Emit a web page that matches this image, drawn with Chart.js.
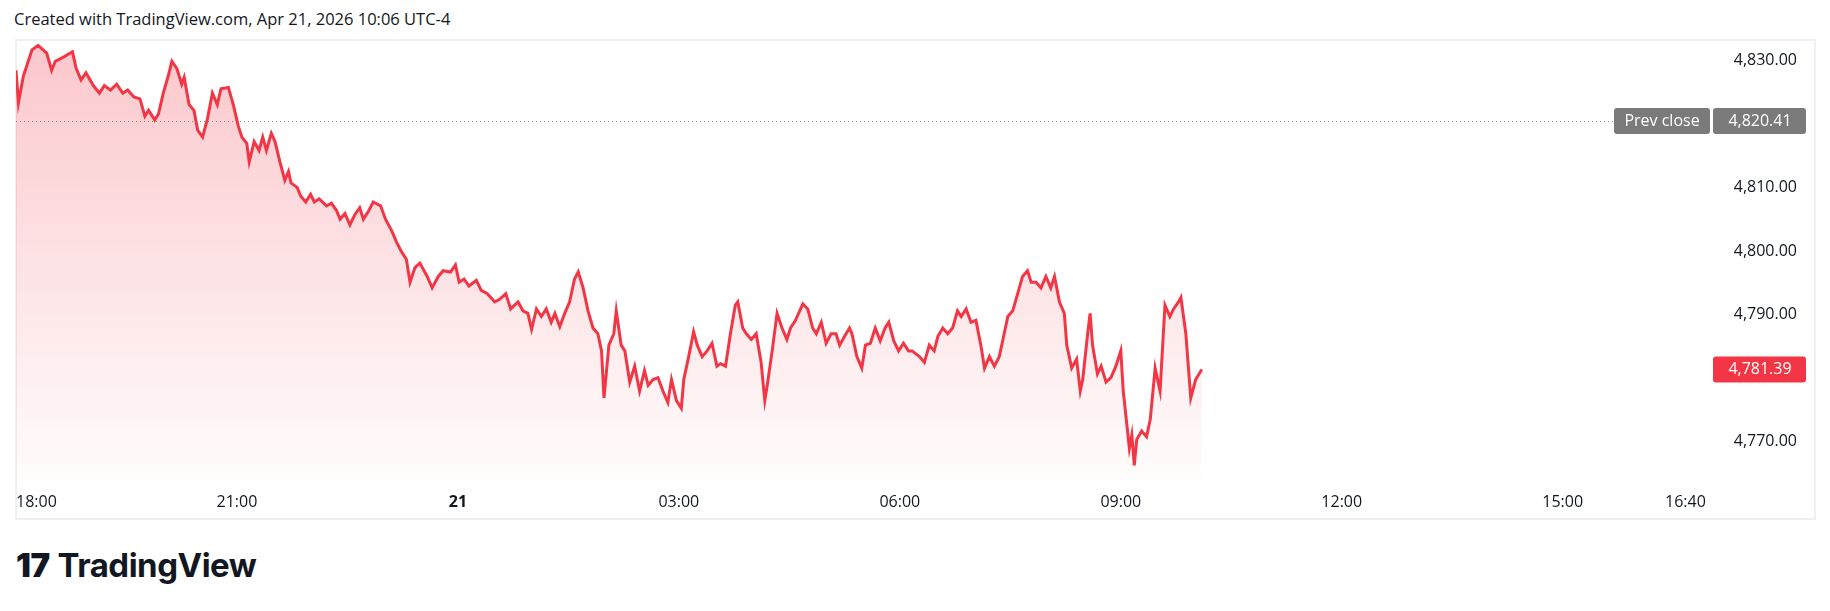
<!DOCTYPE html>
<html><head><meta charset="utf-8">
<script src="https://cdn.jsdelivr.net/npm/chart.js@4/dist/chart.umd.min.js"></script>
<style>
html,body{margin:0;padding:0;background:#fff;width:1830px;height:611px;overflow:hidden;font-family:"Open Sans","Noto Sans",sans-serif;}
#title{position:absolute;left:14px;top:7px;font-size:16.5px;color:#131722;}
#logo{position:absolute;left:16px;top:545px;font-size:33px;font-weight:700;color:#131722;font-family:Inter,"Open Sans",sans-serif;letter-spacing:-0.5px;}
#logo span{display:inline-block;font-weight:900;margin-right:8px;}
canvas{position:absolute;left:0;top:0;}
</style></head><body>
<div id="title">Created with TradingView.com, Apr 21, 2026 10:06 UTC-4</div>
<div id="logo"><span>17</span>TradingView</div>
<canvas id="c" width="1830" height="611"></canvas>
<script>
// minutes since 18:00 (Apr 20)
const minutes = [0,2,6,13,18,25,29,32,39,46,49,53,57,63,68,72,77,82,87,91,96,101,105,108,113,116,120,124,127,131,135,137,141,145,148,152,156,160,164,167,173,177,181,184,188,190,194,198,201,204,208,211,215,219,222,224,229,232,236,240,243,247,253,257,261,264,268,272,276,280,283,287,291,297,301,306,310,314,318,321,325,329,335,339,344,348,354,358,361,365,369,375,379,384,390,394,399,403,409,413,417,420,424,428,432,436,439,443,447,451,455,458,462,466,470,474,477,479,483,487,489,493,496,500,504,508,512,515,519,523,527,531,534,538,542,544,548,552,555,559,563,567,571,574,578,582,586,588,592,595,599,603,607,610,612,616,620,624,628,631,635,641,645,649,652,656,660,664,668,671,675,679,681,685,689,692,696,700,704,708,711,715,719,723,727,730,736,740,744,748,751,755,759,763,767,770,774,778,782,786,789,793,797,801,805,808,812,816,820,824,827,831,835,839,843,846,850,854,856,860,864,867,869,873,875,877,881,884,888,892,896,900,902,905,907,909,911,913,917,921,924,928,932,936,940,943,947,949,953,957,961,966];
const prices = [4828.4,4823.3,4827.5,4831.6,4832.3,4831.1,4828.4,4829.8,4830.5,4831.3,4828.7,4826.9,4828.0,4826.0,4824.8,4826.0,4825.3,4826.2,4824.8,4825.3,4824.2,4823.9,4821.2,4822.1,4820.6,4821.5,4824.8,4827.5,4829.8,4828.7,4826.2,4827.3,4823.0,4822.1,4819.0,4817.9,4820.8,4824.8,4823.0,4825.5,4825.7,4823.0,4819.7,4817.9,4816.9,4814.0,4817.2,4815.8,4817.9,4815.8,4818.5,4817.2,4814.0,4811.1,4812.5,4810.7,4810.0,4808.6,4807.7,4808.9,4807.7,4808.2,4807.1,4807.5,4806.4,4805.0,4805.9,4804.1,4805.7,4806.8,4805.0,4806.2,4807.7,4807.1,4805.0,4803.2,4801.4,4799.9,4798.7,4795.1,4797.4,4798.1,4796.0,4794.2,4796.0,4796.9,4796.7,4797.8,4795.1,4795.6,4794.5,4795.4,4793.8,4793.3,4792.0,4792.4,4793.3,4790.9,4792.0,4790.6,4790.2,4787.7,4790.9,4789.7,4790.9,4788.8,4790.2,4788.1,4790.2,4792.0,4795.6,4796.7,4794.2,4790.6,4787.9,4787.0,4784.3,4776.9,4785.2,4787.0,4790.6,4785.2,4784.3,4779.4,4781.9,4778.0,4781.2,4778.9,4779.8,4780.1,4778.0,4776.2,4779.8,4776.5,4775.3,4779.8,4783.4,4787.3,4785.2,4783.4,4784.3,4785.5,4781.9,4782.3,4781.9,4787.0,4791.5,4792.0,4787.9,4787.0,4786.1,4787.0,4782.5,4776.5,4778.9,4784.3,4790.2,4787.9,4786.1,4787.9,4789.1,4791.7,4790.9,4787.9,4787.0,4788.8,4785.5,4787.0,4787.0,4785.2,4786.6,4787.9,4787.0,4783.4,4781.6,4785.2,4785.5,4787.9,4785.9,4787.9,4788.8,4785.9,4784.3,4785.5,4784.3,4784.3,4783.4,4782.5,4785.2,4784.3,4786.6,4787.9,4787.0,4787.9,4790.6,4789.7,4790.9,4788.8,4789.1,4785.2,4781.6,4783.4,4781.9,4783.4,4787.0,4789.7,4790.6,4793.3,4796.0,4796.9,4795.1,4795.1,4794.2,4796.0,4794.2,4796.0,4792.0,4790.2,4785.2,4781.6,4783.0,4778.0,4779.8,4787.0,4790.2,4785.2,4780.7,4781.9,4779.4,4780.1,4781.9,4784.3,4778.0,4772.6,4769.0,4771.1,4766.3,4770.4,4771.7,4770.8,4773.5,4781.6,4778.0,4791.5,4789.7,4790.9,4792.0,4792.7,4787.0,4776.9,4779.8,4781.39];
const prevClose = 4820.41;
const lastPrice = 4781.39;
const xTickMinutes = [0,180,360,540,720,900,1080,1260,1360];
const xTickLabels = ["18:00","21:00","21","03:00","06:00","09:00","12:00","15:00","16:40"];
const yTickValues = [4830,4810,4800,4790,4770];

const RED = '#f23645';
const fmt = v => v.toLocaleString('en-US',{minimumFractionDigits:2,maximumFractionDigits:2});
const FONT = '"Open Sans","Noto Sans",sans-serif';

const deco = {
  id:'deco',
  beforeDatasetsDraw(chart){
    const c=chart.ctx, x=chart.scales.x, y=chart.scales.y;
    c.save();
    c.strokeStyle='#eef0f3'; c.lineWidth=2;
    c.strokeRect(16,40,1799,479);
    const py=Math.round(y.getPixelForValue(prevClose))+0.5;
    c.strokeStyle='#9598a1'; c.lineWidth=1; c.setLineDash([1,3]);
    c.beginPath(); c.moveTo(x.left,py); c.lineTo(1614,py); c.stroke();
    c.restore();
  },
  afterDraw(chart){
    const c=chart.ctx, x=chart.scales.x, y=chart.scales.y;
    c.save();
    c.font='16px '+FONT; c.fillStyle='#131722'; c.textBaseline='middle';
    c.textAlign='right';
    yTickValues.forEach(v=>c.fillText(fmt(v),1797,y.getPixelForValue(v)));
    xTickMinutes.forEach((m,i)=>{
      const px=x.getPixelForValue(m);
      c.font=(xTickLabels[i]==='21'?'bold ':'')+'16px '+FONT;
      if(i===0){c.textAlign='left';c.fillText(xTickLabels[i],16,502);}
      else {c.textAlign='center';c.fillText(xTickLabels[i],px,502);}
    });
    const py=y.getPixelForValue(prevClose);
    c.fillStyle='#7a7a7a';
    c.beginPath(); c.roundRect(1614,py-13,96,26,3); c.fill();
    c.beginPath(); c.roundRect(1713,py-13,93,26,3); c.fill();
    c.fillStyle='#fff'; c.textAlign='center'; c.font='16px '+FONT;
    c.fillText('Prev close',1662,py); c.fillText(fmt(prevClose),1760,py);
    const ly=y.getPixelForValue(lastPrice);
    c.fillStyle=RED;
    c.beginPath(); c.roundRect(1713,ly-13,93,26,3); c.fill();
    c.fillStyle='#fff'; c.fillText(fmt(lastPrice),1760,ly);
    c.restore();
  }
};

new Chart(document.getElementById('c'),{
  type:'line',
  data:{datasets:[{
    data:minutes.map((m,i)=>({x:m,y:prices[i]})),
    borderColor:RED,borderWidth:3,pointRadius:0,tension:0,
    fill:'start',
    backgroundColor(ctx){
      const a=ctx.chart.chartArea; if(!a) return 'rgba(242,54,69,0.2)';
      const g=ctx.chart.ctx.createLinearGradient(0,a.top,0,a.bottom);
      g.addColorStop(0,'rgba(242,54,69,0.28)');
      g.addColorStop(1,'rgba(242,54,69,0.01)');
      return g;
    }
  }]},
  options:{
    responsive:false,animation:false,
    layout:{padding:{left:16,top:41,right:120,bottom:129}},
    plugins:{legend:{display:false},tooltip:{enabled:false}},
    scales:{
      x:{type:'linear',min:0,max:1380,display:false},
      y:{min:4763.7,max:4833.0,display:false}
    }
  },
  plugins:[deco]
});
</script></body></html>
